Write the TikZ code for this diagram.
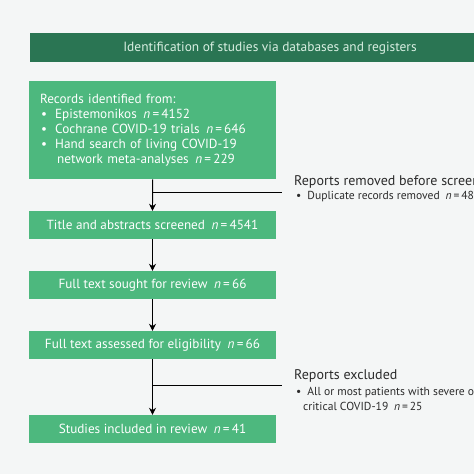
\documentclass[tikz,border=0pt]{standalone}
\usepackage{fontspec}
\setmainfont{PT Sans}
\usetikzlibrary{arrows.meta}
\definecolor{bg}{HTML}{F4F6F6}
\definecolor{hdr}{HTML}{2A7553}
\definecolor{boxg}{HTML}{4DB87E}
\definecolor{hdrtxt}{HTML}{D9EFE2}
\definecolor{txt}{HTML}{2B2B2B}
\tikzset{
  stepbox/.style={fill=boxg, text=white, minimum width=247pt, minimum height=28pt, inner sep=0pt,
    font=\fontsize{13.2}{14.8}\selectfont},
  flow/.style={draw=black, line width=0.9pt},
  arr/.style={flow, -{Stealth[length=7pt,width=7pt]}},
  sidehead/.style={anchor=west, text=txt, inner sep=0pt, font=\fontsize{14}{16}\selectfont},
  sidetext/.style={anchor=north west, text=txt, inner sep=0pt, align=left, font=\fontsize{11.6}{15}\selectfont},
}
\newcommand{\nn}{\textit{n}\,=\,}
\begin{document}
\begin{tikzpicture}[x=1pt,y=-1pt]
\fill[bg] (0,0) rectangle (474,474);
\useasboundingbox (0,0) rectangle (474,474);
\clip (0,0) rectangle (474,474);
\node[fill=hdr, minimum width=460pt, minimum height=29pt, inner sep=0pt, anchor=north west] (hdr) at (30,33) {};
\node[text=hdrtxt, font=\fontsize{13.4}{15}\selectfont, inner sep=0pt] (hdrt) at (270,48) {Identification of studies via databases and registers};
\node[stepbox, anchor=north west, minimum height=98pt, text width=225pt, align=left, inner xsep=11pt] (rec) at (29,81)
  {Records identified from:\\
   \hspace*{1pt}•\hspace{8pt}Epistemonikos\enspace\nn 4152\\
   \hspace*{1pt}•\hspace{8pt}Cochrane COVID-19 trials\enspace\nn 646\\
   \hspace*{1pt}•\hspace{8pt}Hand search of living COVID-19\\
   \hspace*{17pt}network meta-analyses\enspace\nn 229};
\node[stepbox] (tas) at (152.5,225) {Title and abstracts screened\enspace\nn 4541};
\node[stepbox] (fts) at (152.5,285) {Full text sought for review\enspace\nn 66};
\node[stepbox] (fta) at (152.5,345) {Full text assessed for eligibility\enspace\nn 66};
\node[stepbox] (inc) at (152.5,429) {Studies included in review\enspace\nn 41};
\coordinate (b1) at (152.5,192);
\coordinate (e1) at (282,192);
\coordinate (b2) at (152.5,385);
\coordinate (e2) at (282,385);
\draw[arr] (rec.south) -- (tas.north);
\draw[flow] (b1) -- (e1);
\draw[arr] (tas) -- (fts);
\draw[arr] (fts) -- (fta);
\draw[arr] (fta) -- (inc);
\draw[flow] (b2) -- (e2);
\node[sidehead] (rm) at (294,182) {Reports removed before screening:};
\node[sidetext] (rmb) at (296,191) {•\hspace{6pt}Duplicate records removed\enspace\nn 486};
\node[sidehead] (ex) at (294,376) {Reports excluded};
\node[sidetext] (exb) at (296,387) {•\hspace{6pt}All or most patients with severe or\\\hspace*{7pt}critical COVID-19\enspace\nn 25};
\end{tikzpicture}
\end{document}
